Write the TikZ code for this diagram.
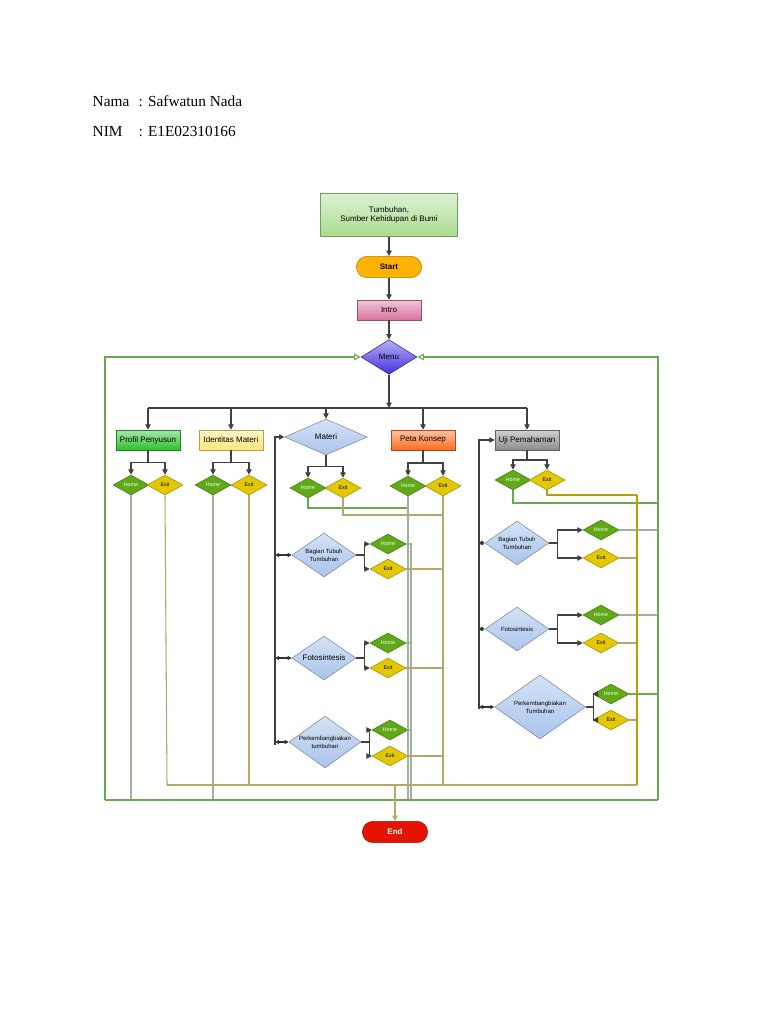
\documentclass[tikz,border=0pt]{standalone}
\usepackage{fontspec}
\setmainfont{Liberation Serif}
\newfontfamily\diafont{Liberation Sans}
\usetikzlibrary{shapes.geometric, arrows.meta, positioning, calc}

\definecolor{homeg}{HTML}{60A917}
\definecolor{exity}{HTML}{E3C800}
\definecolor{loopg}{HTML}{6AA84F}
\definecolor{exitl}{HTML}{B5A86A}
\definecolor{homel}{HTML}{9DB39A}
\definecolor{subb}{HTML}{A9C4EB}
\definecolor{judulc}{HTML}{A9DC8E}
\definecolor{introc}{HTML}{D9729E}
\definecolor{profilc}{HTML}{2CC02C}
\definecolor{identc}{HTML}{FFE57A}
\definecolor{petac}{HTML}{FF6A1F}
\definecolor{ujic}{HTML}{8C8C8C}
\definecolor{startc}{HTML}{FFB300}
\definecolor{endc}{HTML}{E51400}
\definecolor{menuc}{HTML}{4433DD}

\begin{document}
\begin{tikzpicture}[
    x=0.75pt, y=-0.75pt,
    box/.style={rectangle, draw=#1!70!black, top color=#1!40!white, bottom color=#1, minimum height=15pt, minimum width=48pt, align=center, font=\diafont\fontsize{6}{7}\selectfont, inner sep=1pt},
    term/.style={rectangle, rounded corners=8pt, draw=#1!70!black, fill=#1, minimum height=16pt, minimum width=49pt, font=\diafont\bfseries\fontsize{6}{7}\selectfont},
    dia/.style 2 args={diamond, aspect=1.6, draw=subb!70!black, top color=subb!50!white, bottom color=subb, minimum width=#1, minimum height=#2, inner sep=0pt, align=center, font=\diafont\fontsize{4.5}{6}\selectfont},
    hm/.style={diamond, aspect=1.8, draw=homeg!70!black, fill=homeg, text=white, minimum width=27pt, minimum height=15pt, inner sep=0pt, font=\diafont\fontsize{4}{5}\selectfont},
    ex/.style={hm, draw=exity!70!black, fill=exity, text=black},
    arrow/.style={-{Triangle[length=4pt,width=4pt]}, thick, black!75},
    link/.style={thick, black!75},
    darr/.style={{Triangle[length=3pt,width=3pt]}-{Triangle[length=3pt,width=3pt]}, thick, black!80},
    hline/.style={thick, homel},
    eline/.style={thick, exitl},
    gloop/.style={thick, loopg}
]
    \useasboundingbox (0,0) rectangle (768,1024);

    % Header
    \node[anchor=west, font=\fontsize{11.5}{14}\selectfont] (nama) at (88,101) {\makebox[34.5pt][l]{Nama}: Safwatun Nada};
    \node[anchor=west, font=\fontsize{11.5}{14}\selectfont] (nim) at (88,132) {\makebox[34.5pt][l]{NIM}: E1E02310166};

    % Main chain
    \node[box=judulc, minimum width=103pt, minimum height=32pt] (judul) at (389,215) {Tumbuhan,\\Sumber Kehidupan di Bumi};
    \node[term=startc] (start) at (389,267) {Start};
    \node[box=introc] (intro) at (389,310) {Intro};
    \node[diamond, aspect=1.6, draw=menuc!70!black, top color=menuc!40!white, bottom color=menuc, minimum width=42pt, minimum height=26pt, inner sep=0pt, font=\diafont\fontsize{6}{7}\selectfont] (menu) at (389,357) {Menu};
    \coordinate (bus) at (389,408);

    % Menu items
    \node[box=profilc] (profil) at (148,440) {Profil Penyusun};
    \node[box=identc] (ident) at (231,440) {Identitas Materi};
    \node[dia={62pt}{27pt}, aspect=2.3, font=\diafont\fontsize{6}{7}\selectfont] (materi) at (326,437) {Materi};
    \node[box=petac] (peta) at (423,440) {Peta Konsep};
    \node[box=ujic] (uji) at (527,440) {Uji Pemahaman};

    % Home / Exit
    \node[hm] (profil-h) at (131,485) {Home};
    \node[ex] (profil-e) at (165,485) {Exit};
    \node[hm] (ident-h) at (213,485) {Home};
    \node[ex] (ident-e) at (249,485) {Exit};
    \node[hm] (materi-h) at (308,488) {Home};
    \node[ex] (materi-e) at (343,488) {Exit};
    \node[hm] (peta-h) at (408,486) {Home};
    \node[ex] (peta-e) at (443,486) {Exit};
    \node[hm] (uji-h) at (513,480) {Home};
    \node[ex] (uji-e) at (547,480) {Exit};

    % Materi sub pages
    \node[dia={48pt}{33pt}] (mbag) at (324,555) {Bagian Tubuh\\Tumbuhan};
    \node[hm] (mbag-h) at (388,544) {Home};
    \node[ex] (mbag-e) at (388,569) {Exit};
    \node[dia={48pt}{33pt}, font=\diafont\fontsize{6}{7}\selectfont] (mfot) at (324,658) {Fotosintesis};
    \node[hm] (mfot-h) at (388,643) {Home};
    \node[ex] (mfot-e) at (388,668) {Exit};
    \node[dia={54pt}{39pt}] (mper) at (325,742) {Perkembangbiakan\\tumbuhan};
    \node[hm] (mper-h) at (390,730) {Home};
    \node[ex] (mper-e) at (390,756) {Exit};

    % Uji sub pages
    \node[dia={48pt}{33pt}] (ubag) at (517,543) {Bagian Tubuh\\Tumbuhan};
    \node[hm] (ubag-h) at (601,530) {Home};
    \node[ex] (ubag-e) at (601,558) {Exit};
    \node[dia={48pt}{33pt}] (ufot) at (517,629) {Fotosintesis};
    \node[hm] (ufot-h) at (601,615) {Home};
    \node[ex] (ufot-e) at (601,643) {Exit};
    \node[dia={68pt}{48pt}] (uper) at (540,707) {Perkembangbiakan\\Tumbuhan};
    \node[hm] (uper-h) at (611,694) {Home};
    \node[ex] (uper-e) at (611,720) {Exit};

    \node[term=endc, text=white] (end) at (395,832) {End};

    % Bus corners
    \coordinate (gL) at (105,800);
    \coordinate (gR) at (658,800);
    \coordinate (oL) at (167,785);
    \coordinate (oR) at (637,785);
    \coordinate (mline) at (275,745);
    \coordinate (uline) at (479,709);

    % Arrows
    \draw[arrow] (judul) -- (start);
    \draw[arrow] (start) -- (intro);
    \draw[arrow] (intro) -- (menu);
    \draw[arrow] (menu) -- (bus);
    \draw[link] (profil.north |- bus) -- (uji.north |- bus);
    \foreach \n in {profil,ident,materi,peta,uji}
        \draw[arrow] (\n.north |- bus) -- (\n.north);
    \foreach \n in {profil,ident,materi,peta,uji} {
        \draw[link] (\n.south) -- ($(\n.south)!0.5!(\n.south |- \n-h.north)$) coordinate (\n-j);
        \draw[arrow] (\n-j) -| (\n-h.north);
        \draw[arrow] (\n-j) -| (\n-e.north);
    }
    \foreach \s in {mbag,mfot,mper,ubag,ufot,uper} {
        \draw[link] (\s.east) -- ++(8,0) coordinate (\s-j);
        \draw[arrow] (\s-j) |- (\s-h.west);
        \draw[arrow] (\s-j) |- (\s-e.west);
    }
    \draw[arrow] (mline) |- (materi.west);
    \draw[arrow] (uline) |- (uji.west);
    \foreach \s in {mbag,mfot,mper}
        \draw[darr] (\s.west -| mline) -- (\s.west);
    \foreach \s in {ubag,ufot,uper}
        \draw[darr] (\s.west -| uline) -- (\s.west);

    % Home lines
    \draw[hline] (profil-h.south) -- (profil-h.south |- gL);
    \draw[hline] (ident-h.south) -- (ident-h.south |- gL);
    \draw[gloop] (materi-h.south) |- (peta-h.south |- 0,508);
    \draw[hline] (peta-h.south) -- (peta-h.south |- gL);
    \draw[gloop] (uji-h.south) |- (658,503);
    \foreach \s in {mbag,mfot,mper}
        \draw[hline] (\s-h.east) -| (411,800);
    \foreach \s in {ubag,ufot}
        \draw[hline] (\s-h.east) -- (\s-h.east -| gR);
    \draw[gloop] (uper-h.east) -- (uper-h.east -| gR);
    \draw[gloop] (gL) -- (gR);
    \draw[gloop, -{Triangle[open,length=5pt,width=5pt]}] (gL) |- (menu.west);
    \draw[gloop, -{Triangle[open,length=5pt,width=5pt]}] (gR) |- (menu.east);

    % Exit lines
    \draw[eline] (profil-e.south) -- (oL);
    \draw[eline] (ident-e.south) -- (ident-e.south |- oL);
    \draw[eline] (materi-e.south) |- (peta-e.south |- 0,515);
    \draw[eline] (peta-e.south) -- (peta-e.south |- oL);
    \draw[eline, exity!80!black] (uji-e.south) |- (oR |- 0,495);
    \foreach \s in {mbag,mfot,mper}
        \draw[eline] (\s-e.east) -- (\s-e.east -| peta-e.south);
    \foreach \s in {ubag,ufot,uper}
        \draw[eline] (\s-e.east) -- (\s-e.east -| oR);
    \draw[eline, exity!80!black] (oR |- 0,495) -- (oR);
    \draw[eline] (oL) -- (oR);
    \draw[eline, -{Triangle[length=4pt,width=4pt]}] (end.north |- oL) -- (end.north);
\end{tikzpicture}
\end{document}
